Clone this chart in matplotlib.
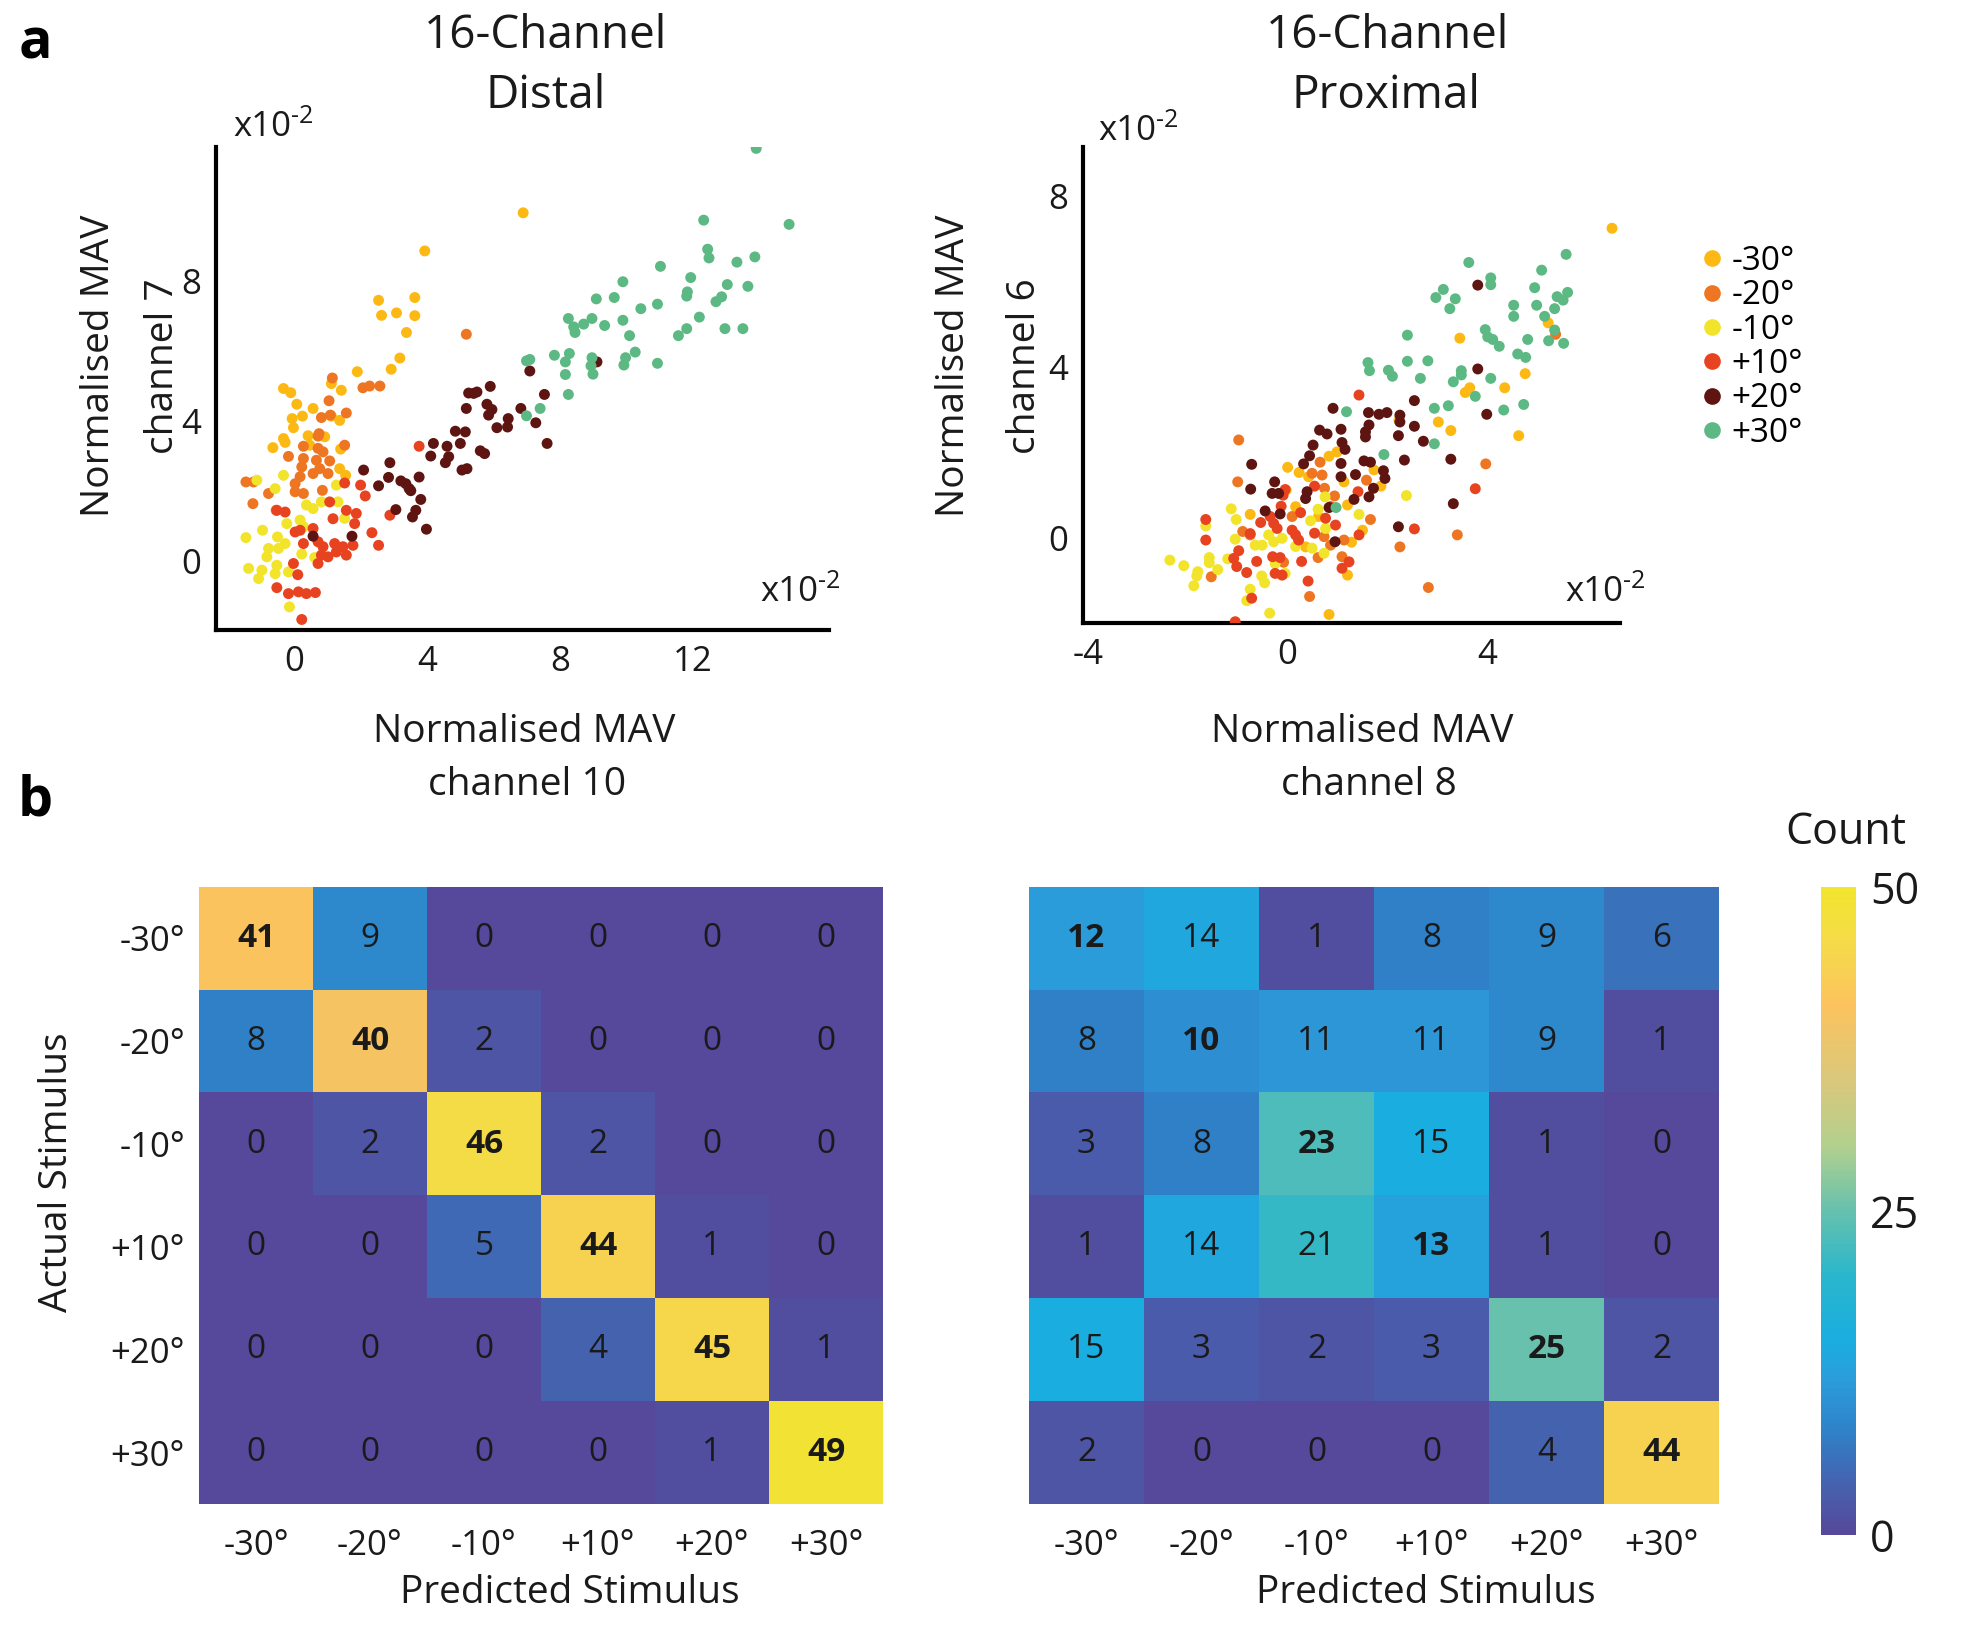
#!/usr/bin/env python3
"""
Distal vs proximal 16-channel MAV scatter plots and confusion matrices
"""

import matplotlib
matplotlib.use('Agg')
import matplotlib.pyplot as plt
from matplotlib.colors import LinearSegmentedColormap
from matplotlib.lines import Line2D
import numpy as np

plt.rcParams['font.family'] = ['Open Sans', 'DejaVu Sans']
plt.rcParams['axes.unicode_minus'] = False

# ---- data (x10^-2 units) ----
classes = ['-30°', '-20°', '-10°', '+10°', '+20°', '+30°']
class_colors = ['#FDB913', '#EE7623', '#F2E42A', '#E84320', '#5E1410', '#5CB983']

# 16-channel distal: channel 10 (x) vs channel 7 (y)
distal_m30 = [(6.90, 9.95), (3.94, 8.86), (2.55, 7.45), (3.64, 7.53), (2.64, 7.02), (3.09, 7.09),
              (3.64, 7.01), (3.39, 6.53), (3.19, 5.80), (2.93, 5.48), (1.91, 5.41), (-0.31, 4.93),
              (-0.09, 4.81), (1.13, 5.07), (1.43, 4.88), (0.09, 4.48), (0.58, 4.36), (0.26, 4.14),
              (-0.05, 4.07), (1.13, 4.14), (1.38, 4.02), (-0.01, 3.81), (0.43, 3.58), (-0.31, 3.50),
              (-0.26, 3.39), (-0.63, 3.24), (0.93, 3.55), (1.41, 3.20), (1.38, 2.64), (1.56, 2.45),
              (0.48, 3.31)]
distal_m20 = [(5.19, 6.48), (2.08, 4.95), (2.28, 5.00), (2.59, 5.00), (1.16, 5.23), (1.06, 4.58),
              (1.58, 4.23), (0.83, 4.10), (1.10, 4.17), (0.76, 3.64), (0.73, 3.57), (1.53, 3.31),
              (-0.16, 2.99), (0.29, 3.28), (0.73, 3.22), (0.88, 3.12), (0.29, 2.93), (0.68, 2.88),
              (1.08, 2.86), (0.24, 2.69), (0.78, 2.64), (0.58, 2.50), (1.03, 2.50), (0.19, 2.41),
              (0.04, 2.21), (0.04, 1.98), (0.29, 1.93), (-0.76, 1.93), (-1.44, 2.26), (-1.21, 2.26),
              (-1.23, 1.64), (-0.53, 1.45), (0.86, 2.02)]
distal_m10 = [(-1.11, 2.31), (-0.56, 2.07), (-0.31, 2.45), (1.28, 2.17), (0.38, 1.60), (0.58, 1.50),
              (0.83, 1.69), (1.33, 1.69), (1.53, 1.22), (-0.21, 1.07), (0.19, 1.17), (-0.94, 0.88),
              (-1.44, 0.67), (-0.49, 0.69), (-0.26, 0.50), (-0.76, 0.36), (-0.46, 0.36), (-0.81, 0.12),
              (0.24, 0.20), (0.63, 0.10), (-1.36, -0.21), (-0.96, -0.26), (-0.51, -0.12), (-0.56, -0.36),
              (-1.06, -0.50), (-0.16, -0.31), (-0.13, -1.31), (0.29, 0.98)]
distal_p10 = [(3.77, 3.28), (1.53, 2.23), (2.01, 2.17), (2.15, 1.86), (2.89, 1.31), (1.08, 1.69),
              (1.58, 1.45), (1.88, 1.36), (1.83, 1.07), (-0.51, 1.45), (-0.26, 1.40), (1.18, 1.21),
              (0.58, 0.93), (0.04, 0.83), (0.19, 0.88), (2.35, 0.81), (2.55, 0.45), (0.73, 0.55),
              (0.88, 0.41), (0.83, 0.17), (1.03, 0.12), (1.23, 0.50), (1.28, 0.26), (1.48, 0.41),
              (1.58, 0.17), (1.78, 0.45), (0.73, -0.07), (0.29, 0.50), (-0.01, -0.07), (0.12, -0.39),
              (-0.51, -0.76), (-0.16, -0.93), (0.14, -0.88), (0.38, -0.93), (0.65, -0.90), (0.24, -1.67)]
distal_p20 = [(7.10, 5.43), (5.26, 4.80), (5.41, 4.79), (5.51, 4.83), (5.91, 4.99), (5.19, 4.36),
              (5.81, 4.48), (5.96, 4.33), (5.86, 4.17), (6.83, 4.36), (6.45, 4.07), (6.43, 3.83),
              (6.11, 3.81), (4.86, 3.71), (5.16, 3.69), (5.01, 3.36), (4.20, 3.36), (4.61, 3.28),
              (4.12, 3.00), (4.66, 2.98), (4.56, 2.81), (5.61, 3.15), (5.74, 3.07), (5.06, 2.60),
              (5.21, 2.64), (2.89, 2.81), (2.10, 2.60), (2.85, 2.39), (2.55, 2.15), (3.22, 2.29),
              (3.37, 2.21), (3.47, 2.07), (3.52, 2.01), (3.77, 2.40), (3.82, 1.76), (3.07, 1.47),
              (3.67, 1.45), (3.57, 1.26), (3.99, 0.91), (0.58, 0.71), (1.75, 0.71), (7.54, 4.76),
              (7.28, 3.95), (7.62, 3.36), (9.12, 5.69)]
distal_p30 = [(13.91, 11.79), (12.33, 9.74), (14.90, 9.62), (12.45, 8.91), (12.49, 8.66), (13.87, 8.69),
              (13.33, 8.54), (11.03, 8.42), (11.94, 8.10), (9.90, 7.98), (13.04, 7.90), (13.66, 7.85),
              (11.84, 7.69), (11.82, 7.57), (9.10, 7.49), (9.64, 7.53), (10.44, 7.21), (10.94, 7.34),
              (12.87, 7.55), (12.70, 7.41), (8.26, 6.93), (8.97, 6.93), (8.72, 6.77), (8.42, 6.69),
              (8.46, 6.53), (9.35, 6.73), (9.90, 6.88), (10.10, 6.44), (12.20, 6.97), (11.82, 6.64),
              (11.57, 6.44), (12.97, 6.64), (13.51, 6.64), (7.84, 5.88), (8.29, 5.93), (8.17, 5.69),
              (7.10, 5.76), (7.00, 5.72), (8.97, 5.81), (8.94, 5.58), (9.00, 5.34), (8.17, 5.33),
              (9.98, 5.81), (9.93, 5.60), (10.27, 5.97), (10.94, 5.65), (8.26, 4.76), (7.41, 4.36),
              (7.00, 4.15)]

# 16-channel proximal: channel 8 (x) vs channel 6 (y)
prox_m30 = [(6.50, 7.24), (3.45, 4.67), (5.22, 5.03), (4.76, 3.84), (4.35, 3.51), (3.56, 3.40),
            (3.65, 3.51), (3.02, 2.71), (3.27, 2.51), (4.63, 2.39), (0.00, 1.65), (0.23, 1.53),
            (0.83, 1.91), (0.99, 2.01), (0.42, 1.43), (1.73, 1.59), (1.87, 1.21), (-0.03, 1.12),
            (1.13, 1.31), (-0.75, 0.55), (0.16, 0.73), (0.62, 0.50), (1.20, 0.77), (0.36, -0.21),
            (1.28, -0.10), (1.50, 0.18), (1.20, -0.87), (0.83, -1.79), (2.23, 2.75)]
prox_m20 = [(-0.98, 2.29), (-1.00, 1.31), (0.65, 1.77), (0.49, 1.51), (0.69, 1.47), (0.74, 1.16),
            (0.94, 0.98), (1.58, 1.35), (1.66, 0.43), (-0.90, 0.15), (-0.75, 0.07), (0.09, 0.50),
            (0.73, 0.03), (0.86, -0.17), (1.13, -0.05), (-0.08, -0.57), (-1.53, -0.91), (0.61, -0.46),
            (1.09, -0.44), (0.44, -1.37), (2.25, -0.21), (2.82, -1.16), (3.97, 1.73), (3.40, 0.07),
            (5.37, 4.76)]
prox_m10 = [(-2.36, -0.52), (-2.08, -0.65), (-1.80, -0.79), (-1.82, -0.89), (-1.88, -1.12), (-1.57, -0.46),
            (-1.57, -0.58), (-1.40, -0.74), (-1.64, 0.28), (-1.13, 0.68), (-1.03, 0.43), (-1.05, -0.03),
            (-1.20, -0.49), (-0.75, -1.20), (-0.82, -1.47), (-0.52, -0.89), (-0.46, -1.05), (-0.36, -1.76),
            (-0.65, -0.17), (-0.51, -0.17), (-0.38, 0.07), (-0.28, -0.09), (-0.25, -0.60), (-0.11, -0.01),
            (-0.05, -0.83), (0.16, -0.20), (0.46, 0.40), (0.49, -0.24), (0.61, 0.67), (0.73, -0.36),
            (0.76, 0.22), (0.75, 0.96), (1.43, 0.55), (2.38, 0.99)]
prox_p10 = [(1.43, 3.34), (-1.64, 0.43), (-1.64, -0.05), (-0.98, -0.30), (-1.08, -0.48), (-1.02, -0.67),
            (-0.82, -0.81), (-0.75, 0.10), (-0.62, -0.55), (-0.54, 0.36), (-0.35, 0.50), (-0.28, 0.34),
            (-0.21, 0.22), (-0.13, 0.74), (-0.30, -0.44), (-0.15, -0.46), (-0.25, -0.83), (-0.11, -0.87),
            (-0.09, 1.00), (-0.05, 1.13), (0.09, 0.18), (0.16, 0.07), (0.22, -0.05), (0.28, -0.55),
            (0.26, 0.59), (0.54, 1.21), (0.54, 0.11), (0.76, 0.46), (0.86, 0.73), (0.96, 0.30),
            (1.41, 1.08), (1.43, 0.07), (0.41, -1.01), (-0.72, -1.41), (1.09, -0.71), (1.23, -0.56),
            (-1.05, -1.96), (2.54, 0.21), (3.76, 1.15)]
prox_p20 = [(0.91, 3.03), (0.64, 2.52), (0.79, 2.43), (1.07, 2.54), (0.51, 2.17), (1.09, 2.23),
            (1.15, 2.07), (0.44, 1.92), (0.32, 1.73), (1.07, 1.74), (-0.72, 1.72), (-0.74, 1.14),
            (-0.26, 1.31), (-0.31, 1.04), (-0.18, 1.04), (0.39, 1.08), (0.36, 0.92), (1.07, 1.43),
            (1.36, 1.48), (1.33, 0.90), (1.62, 2.93), (1.63, 2.64), (1.56, 2.48), (1.56, 2.36),
            (1.83, 2.89), (1.99, 2.93), (2.25, 2.87), (2.25, 2.71), (2.22, 2.39), (2.54, 3.21),
            (2.54, 2.61), (2.72, 2.26), (1.53, 1.80), (1.66, 1.77), (1.92, 1.57), (1.95, 1.39),
            (1.72, 1.16), (1.63, 0.96), (2.34, 1.82), (-0.45, 0.63), (-0.15, 0.56), (0.83, 0.71),
            (0.95, -0.09), (2.22, 0.26), (3.81, 5.91), (3.81, 3.95), (3.99, 2.89), (3.27, 1.84),
            (3.32, 0.80)]
prox_p30 = [(1.61, 4.10), (1.64, 3.91), (2.02, 3.92), (2.10, 3.78), (1.18, 2.95), (1.93, 1.95),
            (0.97, 0.71), (3.63, 6.44), (5.58, 6.63), (5.09, 6.26), (4.07, 6.08), (4.07, 5.92),
            (3.12, 5.81), (2.97, 5.62), (3.36, 5.59), (3.25, 5.36), (4.95, 5.85), (5.61, 5.74),
            (5.40, 5.64), (5.52, 5.56), (4.53, 5.44), (4.53, 5.18), (4.99, 5.44), (5.35, 5.36),
            (5.15, 5.18), (2.40, 4.74), (3.96, 4.87), (4.01, 4.70), (4.11, 4.64), (4.24, 4.48),
            (4.81, 4.64), (5.23, 4.61), (5.35, 4.86), (5.53, 4.55), (4.61, 4.30), (4.77, 4.22),
            (2.40, 4.13), (2.81, 4.14), (2.66, 3.73), (3.48, 3.91), (3.48, 3.81), (3.32, 3.65),
            (4.07, 3.73), (3.76, 3.31), (2.94, 3.03), (3.22, 3.09), (4.33, 2.99), (4.73, 3.12),
            (2.94, 2.20)]

distal_sets = [distal_m30, distal_m20, distal_m10, distal_p10, distal_p20, distal_p30]
prox_sets = [prox_m30, prox_m20, prox_m10, prox_p10, prox_p20, prox_p30]

# confusion matrices (rows: actual, cols: predicted)
conf_distal = [[41, 9, 0, 0, 0, 0],
               [8, 40, 2, 0, 0, 0],
               [0, 2, 46, 2, 0, 0],
               [0, 0, 5, 44, 1, 0],
               [0, 0, 0, 4, 45, 1],
               [0, 0, 0, 0, 1, 49]]
conf_prox = [[12, 14, 1, 8, 9, 6],
             [8, 10, 11, 11, 9, 1],
             [3, 8, 23, 15, 1, 0],
             [1, 14, 21, 13, 1, 0],
             [15, 3, 2, 3, 25, 2],
             [2, 0, 0, 0, 4, 44]]

W, H = 1979, 1629


def fx(px):
    return px / W


def fy(py):
    return 1 - py / H


def box(x0, y0, x1, y1):
    """pixel box (top-left, bottom-right) -> figure rect"""
    return [fx(x0), fy(y1), fx(x1) - fx(x0), fy(y0) - fy(y1)]


# parula-like map, sampled from the colorbar
cmap = LinearSegmentedColormap.from_list('count', [
    (0.00, '#56489a'), (0.08, '#4563b0'), (0.16, '#2f82c8'), (0.24, '#2b9ddb'),
    (0.30, '#1aaee0'), (0.40, '#2ab6cc'), (0.50, '#66c1ae'), (0.60, '#b2d08e'),
    (0.70, '#d9c87c'), (0.82, '#fcc35e'), (0.92, '#f5dc48'), (1.00, '#f1e52d')])

fig = plt.figure(figsize=(W / 100, H / 100), dpi=100)
ink = '#1a1a1a'
txt = dict(color=ink, ha='center', va='center')


def scatter_panel(ax, sets, xlim, ylim, xticks, yticks):
    for pts, col in zip(sets, class_colors):
        arr = np.array(pts)
        ax.scatter(arr[:, 0], arr[:, 1], s=62, color=col, edgecolors='none', zorder=3)
    ax.set_xlim(*xlim)
    ax.set_ylim(*ylim)
    ax.set_xticks(xticks)
    ax.set_yticks(yticks)
    for s in ['top', 'right']:
        ax.spines[s].set_visible(False)
    for s in ['left', 'bottom']:
        ax.spines[s].set_linewidth(3)
    ax.tick_params(length=0, labelsize=25, pad=11, colors=ink)


def sci_label(ax, px, py):
    t = fig.text(fx(px), fy(py), 'x10', fontsize=25, color=ink, ha='left', va='center')
    ax.annotate('-2', xy=(1.0, 0.82), xycoords=t, ha='left', va='center',
                fontsize=18, color=ink, annotation_clip=False)


# ---- panel a ----
ax1 = fig.add_axes(box(216, 147, 829, 630))
scatter_panel(ax1, distal_sets, (-2.34, 16.1), (-1.97, 11.83), [0, 4, 8, 12], [0, 4, 8])

ax2 = fig.add_axes(box(1083, 147, 1620, 623))
scatter_panel(ax2, prox_sets, (-4.1, 6.66), (-1.99, 9.14), [-4, 0, 4], [0, 4, 8])

# titles, one text per line
fig.text(fx(546), fy(36), '16-Channel', fontsize=33, **txt)
fig.text(fx(546), fy(96), 'Distal', fontsize=33, **txt)
fig.text(fx(1388), fy(36), '16-Channel', fontsize=33, **txt)
fig.text(fx(1386), fy(96), 'Proximal', fontsize=33, **txt)

# axis labels
fig.text(fx(524), fy(732), 'Normalised MAV', fontsize=28, **txt)
fig.text(fx(527), fy(785), 'channel 10', fontsize=28, **txt)
fig.text(fx(1362), fy(732), 'Normalised MAV', fontsize=28, **txt)
fig.text(fx(1369), fy(785), 'channel 8', fontsize=28, **txt)
fig.text(fx(99), fy(366), 'Normalised MAV', fontsize=28, rotation=90, **txt)
fig.text(fx(163), fy(366), 'channel 7', fontsize=28, rotation=90, **txt)
fig.text(fx(954), fy(366), 'Normalised MAV', fontsize=28, rotation=90, **txt)
fig.text(fx(1025), fy(366), 'channel 6', fontsize=28, rotation=90, **txt)

sci_label(ax1, 233, 127)
sci_label(ax1, 760, 592)
sci_label(ax2, 1098, 131)
sci_label(ax2, 1565, 592)

handles = [Line2D([], [], marker='o', linestyle='none', markersize=12,
                  markerfacecolor=c, markeredgecolor='none') for c in class_colors]
fig.legend(handles, classes, loc='upper left', bbox_to_anchor=(fx(1700), fy(245)),
           frameon=False, fontsize=24, handlelength=0.7, handletextpad=0.25,
           labelspacing=0.04, borderpad=0, borderaxespad=0)

fig.text(fx(35), fy(44), 'a', fontsize=40, fontweight='bold', ha='center', va='center')
fig.text(fx(35), fy(801), 'b', fontsize=40, fontweight='bold', ha='center', va='center')

# ---- panel b ----
ax3 = fig.add_axes(box(199, 887, 883, 1504))
ax4 = fig.add_axes(box(1029, 887, 1719, 1504))
for ax, mat in [(ax3, conf_distal), (ax4, conf_prox)]:
    m = np.array(mat)
    im = ax.imshow(m, cmap=cmap, vmin=0, vmax=50, aspect='auto')
    for i in range(m.shape[0]):
        for j in range(m.shape[1]):
            ax.text(j, i, str(m[i, j]), ha='center', va='center', fontsize=24,
                    color=ink, fontweight='bold' if i == j else 'normal')
    ax.set_xticks(range(len(classes)))
    ax.set_xticklabels(classes)
    ax.set_yticks(range(len(classes)))
    ax.set_yticklabels(classes if ax is ax3 else [])
    for s in ax.spines.values():
        s.set_visible(False)
    ax.tick_params(axis='x', length=0, labelsize=25, pad=18, colors=ink)
    ax.tick_params(axis='y', length=0, labelsize=25, pad=10, colors=ink)

fig.text(fx(570), fy(1593), 'Predicted Stimulus', fontsize=28, **txt)
fig.text(fx(1426), fy(1593), 'Predicted Stimulus', fontsize=28, **txt)
fig.text(fx(57), fy(1172), 'Actual Stimulus', fontsize=28, rotation=90, **txt)

cax = fig.add_axes(box(1821, 887, 1856, 1535))
cb = fig.colorbar(im, cax=cax, ticks=[0, 25, 50])
cb.outline.set_visible(False)
cax.tick_params(length=0, labelsize=31, pad=10, colors=ink)
fig.text(fx(1846), fy(833), 'Count', fontsize=31, **txt)

fig.savefig('out.png', dpi=100)
